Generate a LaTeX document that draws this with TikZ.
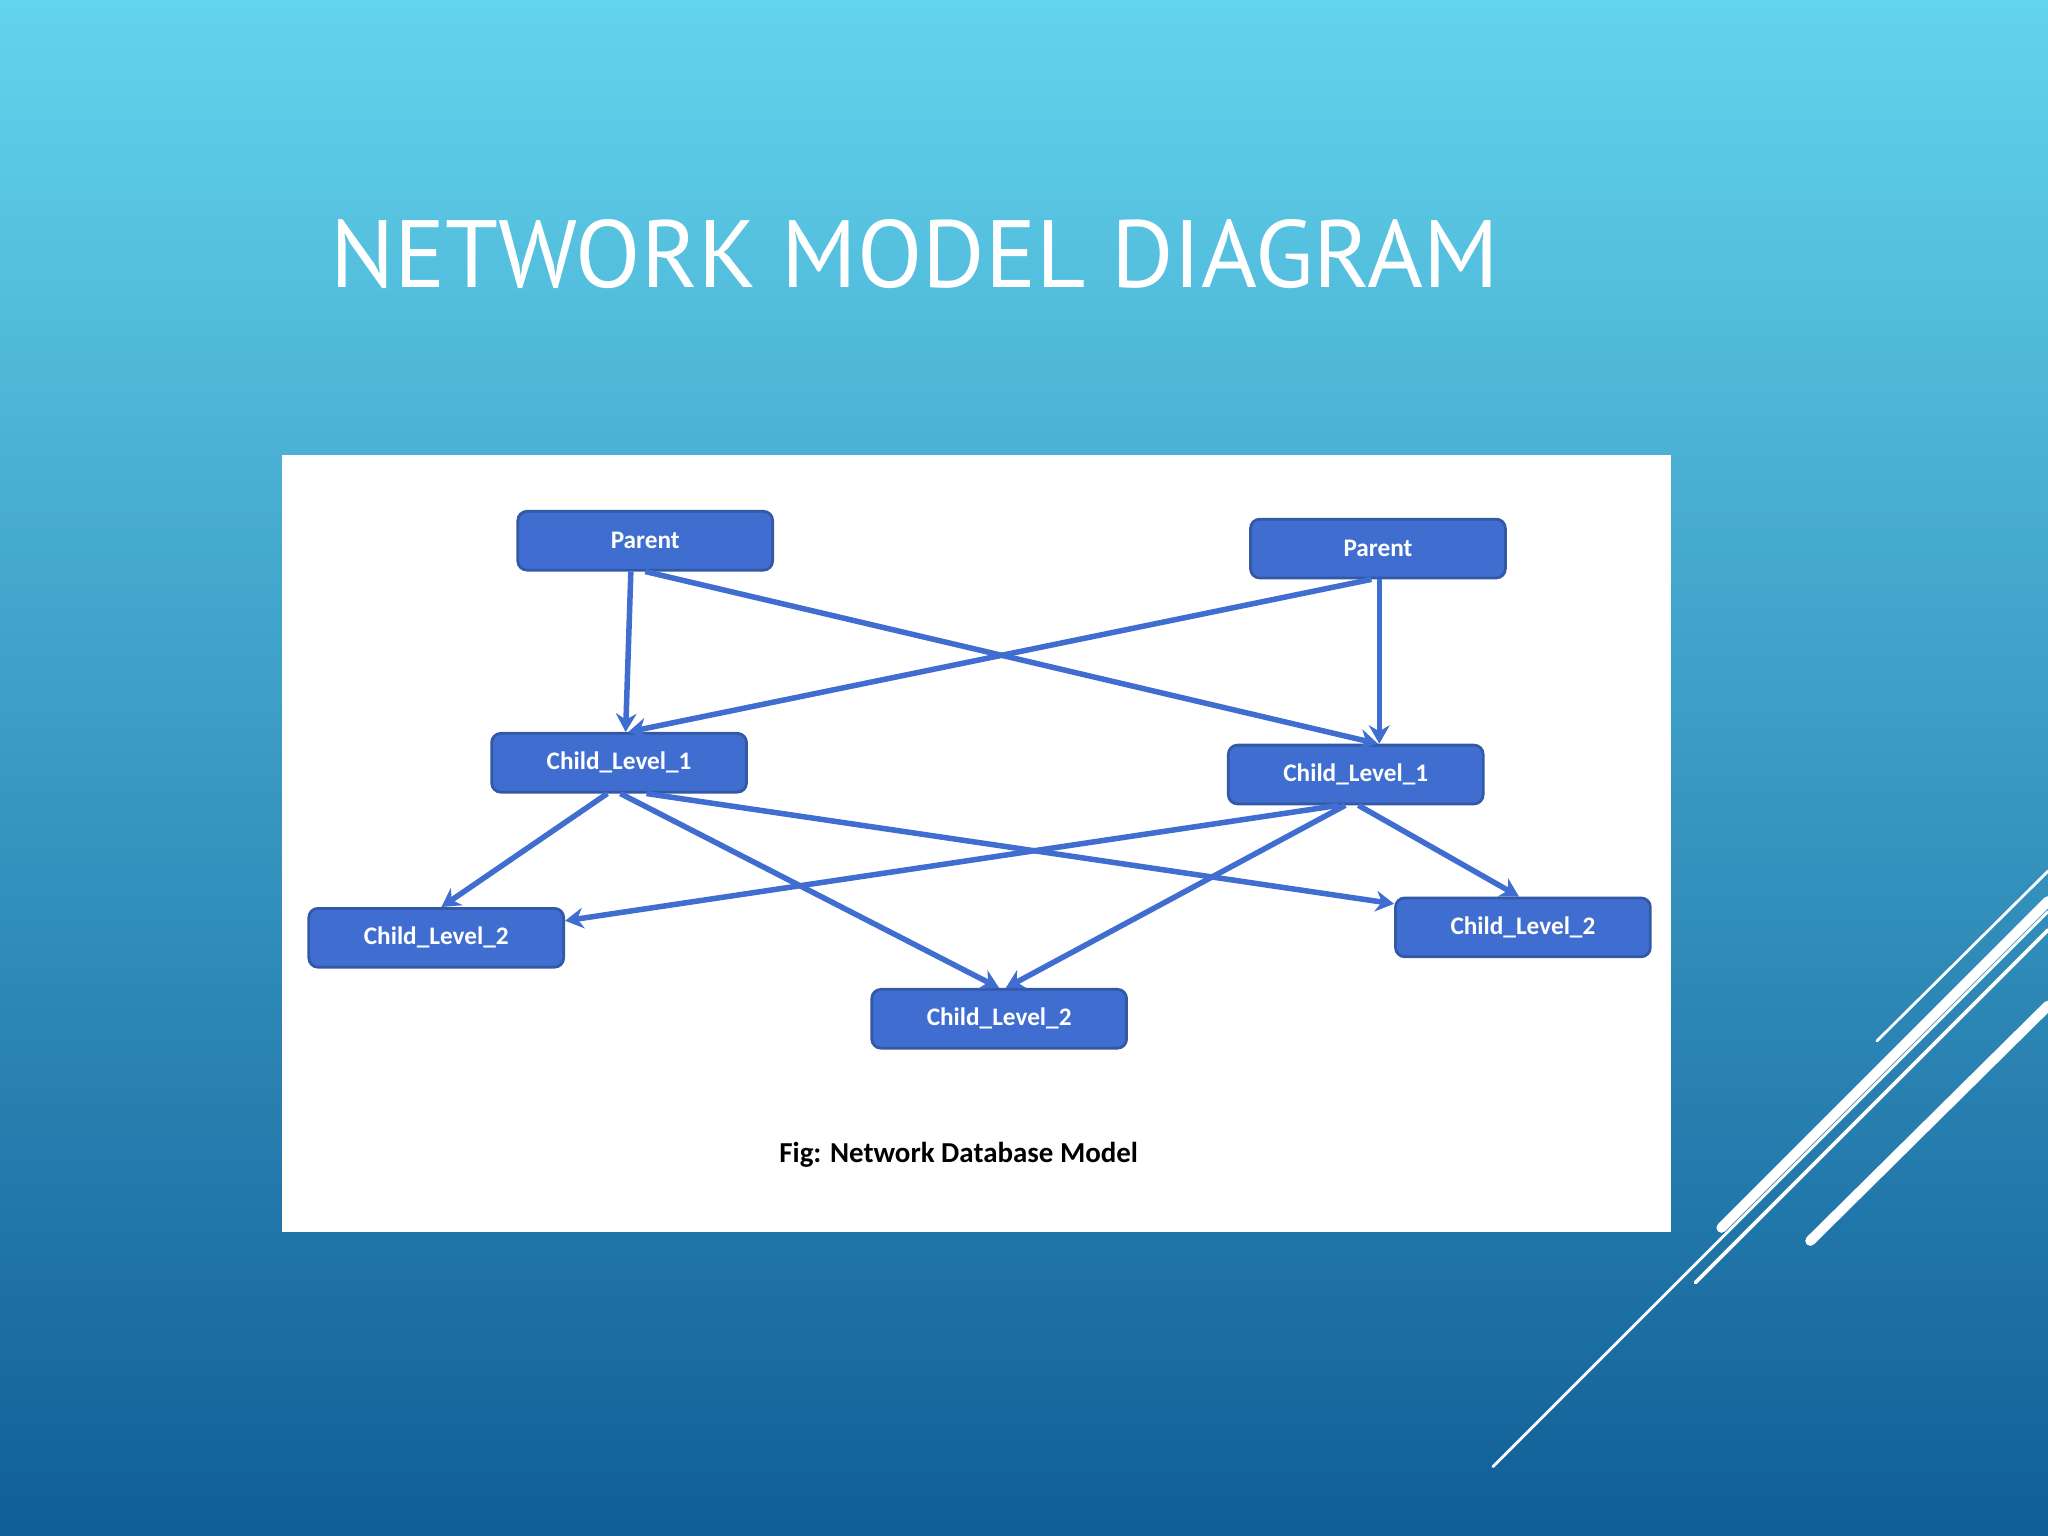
\documentclass[tikz,border=0pt]{standalone}
\usepackage{fontspec}
\setmainfont{Carlito}
\newfontfamily\titlefont{PT Sans}
\usetikzlibrary{arrows.meta}
\definecolor{bgtop}{RGB}{99,212,237}
\definecolor{bgbot}{RGB}{16,94,152}
\definecolor{nodeblue}{RGB}{63,110,208}
\begin{document}
\begin{tikzpicture}[x=0.01cm,y=-0.01cm,
  box/.style={draw=nodeblue!80!black,line width=0.6pt,fill=nodeblue,rounded corners=2pt,minimum width=1.95cm,minimum height=0.45cm,text=white,font=\fontsize{5.5}{7}\selectfont\bfseries},
  con/.style={draw=nodeblue,line width=1.2pt,-{Stealth[length=4pt,width=4.5pt]}},
  deco/.style={draw=white,line cap=round}]
\shade[top color=bgtop,bottom color=bgbot] (0,0) rectangle (1568,1176);
\useasboundingbox (0,0) rectangle (1568,1176);
\node[anchor=base west,text=white,font=\titlefont\fontsize{20.8}{24}\selectfont,inner sep=0] (title) at (252,220) {NETWORK MODEL DIAGRAM};
\fill[white] (216,348) rectangle (1279,943);
\node[box] (p1) at (494,414) {Parent};
\node[box] (p2) at (1055,420) {Parent};
\node[box] (c1a) at (474,584) {Child\_Level\_1};
\node[box] (c1b) at (1038,593) {Child\_Level\_1};
\node[box] (c2a) at (334,718) {Child\_Level\_2};
\node[box] (c2b) at (765,780) {Child\_Level\_2};
\node[box] (c2c) at (1166,710) {Child\_Level\_2};
\node[font=\fontsize{6.3}{8}\selectfont\bfseries] (cap) at (734,884) {Fig: Network Database Model};
\draw[con] (p1.south -| 483,0) -- (c1a.north -| 479,0);
\draw[con] (p1.south) -- (c1b.north -| 1055,0);
\draw[con] (p2.south -| 1050,0) -- (c1a.north -| 481,0);
\draw[con] (p2.south -| 1056,0) -- (c1b.north -| 1056,0);
\draw[con] (c1a.south -| 465,0) -- (c2a.north -| 338,0);
\draw[con] (c1a.south -| 475,0) -- (c2b.north -| 765,0);
\draw[con] (c1a.south -| 495,0) -- (c2c.west |- 0,692);
\draw[con] (c1b.south -| 1025,0) -- (c2a.east |- 0,705);
\draw[con] (c1b.south -| 1030,0) -- (c2b.north -| 770,0);
\draw[con] (c1b.south -| 1040,0) -- (c2c.north -| 1163,0);
\coordinate (d1a) at (1437,797); \coordinate (d1b) at (1568,667);
\coordinate (d2a) at (1318,940); \coordinate (d2b) at (1568,690);
\coordinate (d3a) at (1298,982); \coordinate (d3b) at (1568,712);
\coordinate (d4a) at (1386,950); \coordinate (d4b) at (1568,770);
\coordinate (d5a) at (1143,1123); \coordinate (d5b) at (1568,698);
\draw[deco,line width=0.6pt] (d1a) -- (d1b);
\draw[deco,line width=2.2pt] (d2a) -- (d2b);
\draw[deco,line width=0.8pt] (d3a) -- (d3b);
\draw[deco,line width=2.2pt] (d4a) -- (d4b);
\draw[deco,line width=0.6pt] (d5a) -- (d5b);
\end{tikzpicture}
\end{document}
